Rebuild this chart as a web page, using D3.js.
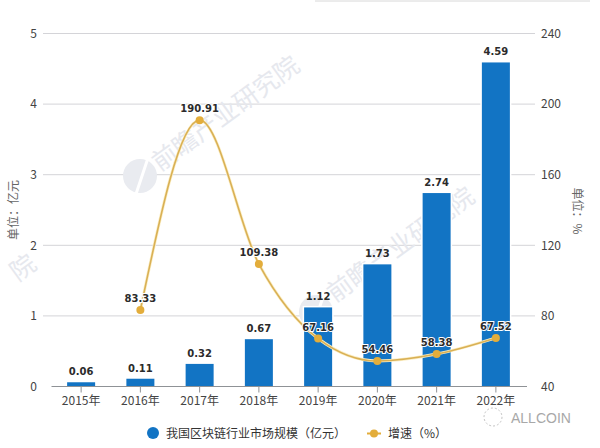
<!DOCTYPE html>
<html>
<head>
<meta charset="utf-8">
<script src="https://cdnjs.cloudflare.com/ajax/libs/d3/7.8.5/d3.min.js"></script>
<style>
  html, body { margin: 0; padding: 0; background: #fff; }
  svg { display: block; }
  text { font-family: "Noto Sans CJK SC", sans-serif; }
</style>
</head>
<body>
<svg id="chart" width="600" height="448"></svg>
<script>
const years = ["2015年", "2016年", "2017年", "2018年", "2019年", "2020年", "2021年", "2022年"];
const marketSize = [0.06, 0.11, 0.32, 0.67, 1.12, 1.73, 2.74, 4.59];
const growthYears = ["2016年", "2017年", "2018年", "2019年", "2020年", "2021年", "2022年"];
const growthRate = [83.33, 190.91, 109.38, 67.16, 54.46, 58.38, 67.52];
const leftTicks = [0, 1, 2, 3, 4, 5];
const rightTicks = [40, 80, 120, 160, 200, 240];
const barName = "我国区块链行业市场规模（亿元）";
const lineName = "增速（%）";

const blue = "#1274c4";
const gold = "#e3ad3b";
const svg = d3.select("#chart");

const x = d3.scaleBand().domain(years).range([51.5, 525.5]);
const yLeft = d3.scaleLinear().domain([0, 5]).range([386.5, 33.5]);
const yRight = d3.scaleLinear().domain([40, 240]).range([386.5, 33.5]);
const xMid = d => x(d) + x.bandwidth() / 2;

// top edge of the box that was cut off in the source picture
svg.append("line").attr("x1", 315).attr("x2", 590).attr("y1", 1).attr("y2", 1)
  .attr("stroke", "#d8d8d8");

// gridlines
svg.append("g").selectAll("line")
  .data(leftTicks.slice(1))
  .enter().append("line")
  .attr("x1", 43).attr("x2", 535)
  .attr("y1", d => yLeft(d)).attr("y2", d => yLeft(d))
  .attr("stroke", "#d4d4d8");

// faint watermarks behind the marks
const marks = [
  { x: 160, y: 172, label: "前瞻产业研究院" },
  { x: 335, y: 303, label: "前瞻产业研究院" },
  { x: 18, y: 282, label: "院" }
];
svg.append("g").selectAll("text")
  .data(marks)
  .enter().append("text")
  .attr("transform", d => `translate(${d.x},${d.y}) rotate(-36)`)
  .attr("font-size", 25)
  .attr("fill", "#e6e8ee")
  .text(d => d.label);
[[140, 176], [316, 312]].forEach(c => {
  svg.append("circle").attr("cx", c[0]).attr("cy", c[1]).attr("r", 17).attr("fill", "#e9ebf0");
  svg.append("line")
    .attr("x1", c[0] - 4).attr("y1", c[1] + 18)
    .attr("x2", c[0] + 8).attr("y2", c[1] - 18)
    .attr("stroke", "#fff").attr("stroke-width", 3);
});

// bars
svg.append("g").selectAll("rect")
  .data(years)
  .enter().append("rect")
  .attr("x", d => xMid(d) - 14)
  .attr("width", 28)
  .attr("y", (d, i) => yLeft(marketSize[i]))
  .attr("height", (d, i) => yLeft(0) - yLeft(marketSize[i]))
  .attr("fill", blue)
  .attr("stroke", "#fff")
  .attr("stroke-width", 3)
  .attr("paint-order", "stroke");

// x axis
const xAxis = svg.append("g")
  .attr("transform", "translate(0,386.5)")
  .call(d3.axisBottom(x).tickSize(6).tickPadding(4));
xAxis.select(".domain").attr("stroke", "#8f9296").attr("d", "M51.5,0H527");
xAxis.selectAll("line").attr("stroke", "#8f9296");
xAxis.selectAll("text").attr("font-size", 12).attr("fill", "#444")
  .attr("font-family", '"Noto Sans CJK SC", sans-serif');

// y axes
const leftAxis = svg.append("g")
  .attr("transform", "translate(43,0)")
  .call(d3.axisLeft(yLeft).tickValues(leftTicks).tickFormat(d3.format("d")).tickSize(0).tickPadding(6));
leftAxis.select(".domain").remove();
leftAxis.selectAll("text").attr("font-size", 12).attr("fill", "#444")
  .attr("font-family", '"Noto Sans CJK SC", sans-serif');

const rightAxis = svg.append("g")
  .attr("transform", "translate(535,0)")
  .call(d3.axisRight(yRight).tickValues(rightTicks).tickSize(0).tickPadding(6));
rightAxis.select(".domain").remove();
rightAxis.selectAll("text").attr("font-size", 12).attr("fill", "#444")
  .attr("font-family", '"Noto Sans CJK SC", sans-serif');

// axis titles
svg.append("text")
  .attr("transform", "translate(18,210) rotate(-90)")
  .attr("text-anchor", "middle").attr("font-size", 12).attr("fill", "#666")
  .text("单位：亿元");
svg.append("text")
  .attr("transform", "translate(573,211) rotate(90)")
  .attr("text-anchor", "middle").attr("font-size", 12).attr("fill", "#666")
  .text("单位：%");

// growth line
const line = d3.line()
  .x(d => xMid(d))
  .y((d, i) => yRight(growthRate[i]))
  .curve(d3.curveMonotoneX);
svg.append("path")
  .attr("d", line(growthYears))
  .attr("fill", "none")
  .attr("stroke", "#fbeec4")
  .attr("stroke-width", 3);
svg.append("path")
  .attr("d", line(growthYears))
  .attr("fill", "none")
  .attr("stroke", "#d9b055")
  .attr("stroke-width", 1.6);
svg.append("g").selectAll("circle")
  .data(growthYears)
  .enter().append("circle")
  .attr("cx", d => xMid(d))
  .attr("cy", (d, i) => yRight(growthRate[i]))
  .attr("r", 4)
  .attr("fill", gold);

// value labels
svg.append("g").selectAll("text")
  .data(years)
  .enter().append("text")
  .attr("x", d => xMid(d))
  .attr("y", (d, i) => yLeft(marketSize[i]) - 7)
  .attr("text-anchor", "middle")
  .attr("font-size", 10)
  .attr("font-weight", "bold")
  .attr("fill", "#2b2b2b")
  .style("font-family", '"DejaVu Sans", sans-serif')
  .text((d, i) => marketSize[i].toFixed(2));
svg.append("g").selectAll("text")
  .data(growthYears)
  .enter().append("text")
  .attr("x", d => xMid(d))
  .attr("y", (d, i) => yRight(growthRate[i]) - 8)
  .attr("text-anchor", "middle")
  .attr("font-size", 10)
  .attr("font-weight", "bold")
  .attr("fill", "#2b2b2b")
  .attr("stroke", "#fff")
  .attr("stroke-width", 2)
  .attr("paint-order", "stroke")
  .style("font-family", '"DejaVu Sans", sans-serif')
  .text((d, i) => growthRate[i].toFixed(2));

// legend
const legend = svg.append("g");
legend.append("circle").attr("cx", 153).attr("cy", 433).attr("r", 6).attr("fill", blue);
legend.append("text").attr("x", 166).attr("y", 437.5)
  .attr("font-size", 12).attr("fill", "#333").text(barName);
legend.append("line").attr("x1", 367).attr("x2", 381).attr("y1", 433.5).attr("y2", 433.5)
  .attr("stroke", gold).attr("stroke-width", 2);
legend.append("circle").attr("cx", 374).attr("cy", 433.5).attr("r", 4).attr("fill", gold);
legend.append("text").attr("x", 388).attr("y", 437.5)
  .attr("font-size", 12).attr("fill", "#333").text(lineName);

// source stamp bottom right
svg.append("circle").attr("cx", 493).attr("cy", 417).attr("r", 9)
  .attr("fill", "none").attr("stroke", "#c4c4c4").attr("stroke-dasharray", "2 2");
svg.append("text").attr("x", 511).attr("y", 422.5)
  .attr("font-size", 14).attr("fill", "#a8a8a8")
  .style("font-family", '"Liberation Sans", sans-serif')
  .text("ALLCOIN");
</script>
</body>
</html>
